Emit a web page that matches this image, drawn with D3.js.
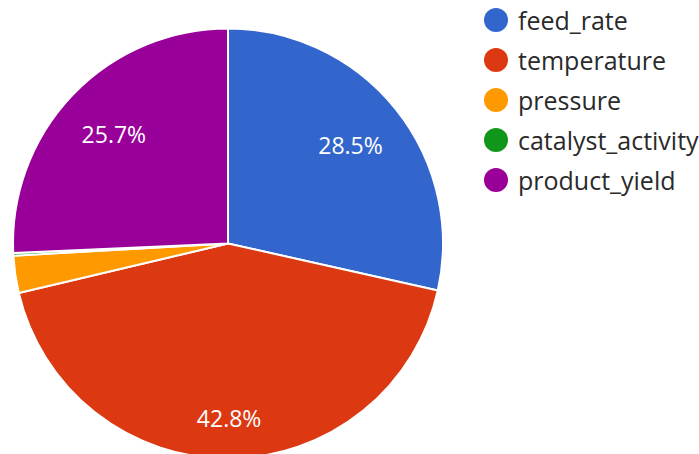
<!DOCTYPE html>
<html>
<head>
<meta charset="utf-8">
<script src="https://cdn.jsdelivr.net/npm/d3@7"></script>
<style>
  body { margin: 0; background: #fff; }
  svg { display: block; font-family: "Open Sans", "Noto Sans", sans-serif; }
</style>
</head>
<body>
<div id="chart"></div>
<script>
// chart data
const labels = ["feed_rate", "temperature", "pressure", "catalyst_activity", "product_yield"];
const values = [28.5, 42.8, 2.8, 0.2, 25.7];
const colors = ["#3366cc", "#dc3912", "#ff9900", "#109618", "#990099"];

const W = 699, H = 454;
const cx = 228, cy = 243.5, R = 215;

const svg = d3.select("#chart")
  .append("svg")
  .attr("width", W)
  .attr("height", H);

const data = labels.map((l, i) => ({ label: l, value: values[i], color: colors[i] }));
const total = d3.sum(values);

const pie = d3.pie()
  .sort(null)
  .value(d => d.value);

const arc = d3.arc()
  .innerRadius(0)
  .outerRadius(R);

const g = svg.append("g")
  .attr("transform", `translate(${cx}, ${cy})`);

const arcs = pie(data);

g.selectAll("path")
  .data(arcs)
  .enter()
  .append("path")
  .attr("d", arc)
  .attr("fill", d => d.data.color)
  .attr("stroke", "#fff")
  .attr("stroke-width", 2)
  .attr("stroke-linejoin", "round");

// percentage labels, pushed outward until the text box nearly touches the rim
const lbl = g.selectAll("text.pct")
  .data(arcs.filter(d => d.data.value / total > 0.05))
  .enter()
  .append("text")
  .attr("class", "pct")
  .attr("fill", "#fff")
  .attr("font-size", 23)
  .attr("text-anchor", "middle")
  .attr("dominant-baseline", "central")
  .text(d => (d.data.value / total * 100).toFixed(1) + "%");

lbl.each(function (d) {
  const bb = this.getBBox();
  const hw = bb.width / 2, hh = bb.height / 2 * 0.75;
  const a = (d.startAngle + d.endAngle) / 2;
  const ux = Math.sin(a), uy = -Math.cos(a);
  const limit = R * 0.885;
  let r = 0;
  for (let t = 0; t < R; t += 0.5) {
    const x = ux * t, y = uy * t;
    const far = Math.hypot(Math.abs(x) + hw, Math.abs(y) + hh);
    if (far > limit) break;
    r = t;
  }
  d3.select(this)
    .attr("x", ux * r)
    .attr("y", uy * r);
});

// legend
const legend = svg.append("g")
  .attr("transform", "translate(496, 20)");

const item = legend.selectAll("g")
  .data(data)
  .enter()
  .append("g")
  .attr("transform", (d, i) => `translate(0, ${i * 40})`);

item.append("circle")
  .attr("r", 12)
  .attr("fill", d => d.color);

item.append("text")
  .attr("x", 22)
  .attr("dominant-baseline", "central")
  .attr("font-size", 25)
  .attr("fill", "#2a2a2a")
  .text(d => d.label);
</script>
</body>
</html>
